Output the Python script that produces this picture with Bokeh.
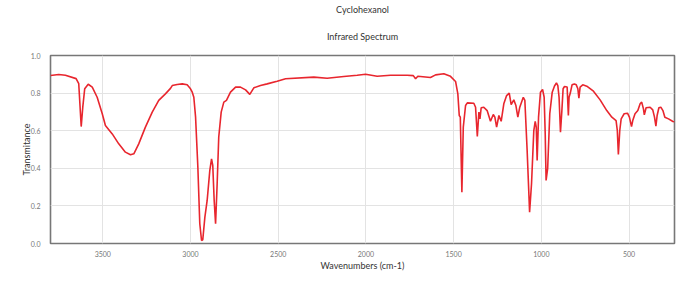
from bokeh.plotting import figure
from bokeh.models import Range1d, FixedTicker, PrintfTickFormatter, Title
from bokeh.embed import file_html
from bokeh.resources import INLINE

title_main = "Cyclohexanol"
title_sub = "Infrared Spectrum"
x_label = "Wavenumbers (cm-1)"
y_label = "Transmitance"
x_ticks = [500, 1000, 1500, 2000, 2500, 3000, 3500]
y_ticks = [0.0, 0.2, 0.4, 0.6, 0.8, 1.0]

wavenumber = [3798, 3751, 3713, 3652, 3637, 3623, 3614, 3603, 3583, 3560, 3532, 3503, 3485, 3446,
              3409, 3371, 3342, 3323, 3295, 3257, 3218, 3181, 3143, 3114, 3104, 3076, 3047, 3019,
              3000, 2990, 2981, 2971, 2958, 2947, 2937, 2930, 2918, 2905, 2890, 2880, 2873, 2865,
              2857, 2848, 2839, 2825, 2810, 2795, 2772, 2743, 2715, 2686, 2662, 2639, 2601, 2563,
              2506, 2458, 2297, 2221, 2126, 2050, 2002, 1936, 1860, 1765, 1730, 1717, 1704, 1632,
              1603, 1556, 1518, 1489, 1476, 1468, 1462, 1453, 1445, 1432, 1422, 1385, 1375, 1365,
              1356, 1350, 1343, 1328, 1309, 1290, 1274, 1265, 1255, 1242, 1229, 1214, 1198, 1183,
              1172, 1157, 1145, 1134, 1123, 1103, 1094, 1081, 1067, 1056, 1043, 1035, 1029, 1024,
              1016, 1005, 993, 984, 978, 973, 964, 952, 938, 925, 914, 906, 899, 891, 883, 876,
              868, 853, 846, 842, 835, 825, 812, 801, 792, 786, 779, 764, 741, 703, 665, 627, 598,
              574, 567, 561, 553, 545, 528, 509, 498, 486, 479, 466, 450, 437, 428, 418, 413, 403,
              380, 365, 355, 347, 340, 330, 319, 307, 296, 275, 250, 241]
transmittance = [0.894, 0.899, 0.895, 0.877, 0.850, 0.622, 0.725, 0.823, 0.847, 0.832, 0.778, 0.690,
                 0.628, 0.583, 0.530, 0.486, 0.472, 0.477, 0.530, 0.619, 0.699, 0.761, 0.796, 0.825,
                 0.840, 0.846, 0.849, 0.844, 0.823, 0.805, 0.778, 0.672, 0.406, 0.105, 0.016, 0.020,
                 0.140, 0.229, 0.388, 0.450, 0.415, 0.229, 0.105, 0.318, 0.565, 0.699, 0.752, 0.761,
                 0.805, 0.832, 0.832, 0.817, 0.793, 0.828, 0.840, 0.849, 0.863, 0.876, 0.885, 0.879,
                 0.888, 0.895, 0.900, 0.890, 0.895, 0.895, 0.893, 0.876, 0.890, 0.883, 0.897, 0.903,
                 0.889, 0.862, 0.796, 0.681, 0.672, 0.273, 0.619, 0.734, 0.748, 0.746, 0.725, 0.569,
                 0.699, 0.663, 0.722, 0.725, 0.707, 0.650, 0.686, 0.672, 0.619, 0.681, 0.650, 0.743,
                 0.787, 0.800, 0.739, 0.764, 0.734, 0.672, 0.725, 0.778, 0.761, 0.495, 0.167, 0.318,
                 0.601, 0.650, 0.619, 0.441, 0.672, 0.805, 0.819, 0.778, 0.585, 0.335, 0.400, 0.690,
                 0.805, 0.838, 0.854, 0.840, 0.778, 0.592, 0.707, 0.823, 0.835, 0.832, 0.681, 0.778,
                 0.800, 0.844, 0.849, 0.844, 0.823, 0.773, 0.832, 0.844, 0.837, 0.810, 0.764, 0.707,
                 0.672, 0.654, 0.601, 0.473, 0.601, 0.663, 0.690, 0.693, 0.672, 0.622, 0.654, 0.690,
                 0.707, 0.743, 0.752, 0.716, 0.684, 0.722, 0.725, 0.711, 0.672, 0.624, 0.681, 0.722,
                 0.725, 0.707, 0.672, 0.663, 0.649, 0.648]

FONT = "Lato"

p = figure(width=700, height=299, output_backend="svg", toolbar_location=None,
           x_range=Range1d(3798, 241), y_range=Range1d(0, 1.0),
           min_border_left=50, min_border_right=26, min_border_top=55, min_border_bottom=56)
p.title = None

p.add_layout(Title(text=title_sub, align="center", text_font=FONT, text_font_size="9px",
                   text_font_style="normal", text_color="#333333", standoff=28), "above")
p.add_layout(Title(text=title_main, align="center", text_font=FONT, text_font_size="9px",
                   text_font_style="normal", text_color="#333333", standoff=0), "above")

p.line(wavenumber, transmittance, line_color="#e8262e", line_width=1.6)

p.outline_line_color = "#777777"
p.outline_line_width = 1.6
p.background_fill_color = "white"
p.border_fill_color = "white"

for ax in (p.xaxis[0], p.yaxis[0]):
    ax.axis_line_color = None
    ax.major_tick_line_color = None
    ax.minor_tick_line_color = None
    ax.major_label_text_font = FONT
    ax.major_label_text_font_size = "7px"
    ax.major_label_text_color = "#777777"
    ax.axis_label_text_font = FONT
    ax.axis_label_text_font_size = "9px"
    ax.axis_label_text_font_style = "normal"
    ax.axis_label_text_color = "#333333"

p.xaxis.ticker = FixedTicker(ticks=x_ticks)
p.xaxis.formatter = PrintfTickFormatter(format="%d")
p.xaxis.axis_label = x_label
p.xaxis.major_label_standoff = 1
p.xaxis.axis_label_standoff = 0

p.yaxis.ticker = FixedTicker(ticks=y_ticks)
p.yaxis.formatter = PrintfTickFormatter(format="%.1f")
p.yaxis.axis_label = y_label
p.yaxis.major_label_standoff = 4
p.yaxis.axis_label_standoff = -4

p.xgrid.grid_line_color = "#e3e3e3"
p.ygrid.grid_line_color = "#e3e3e3"
p.xgrid.ticker = FixedTicker(ticks=x_ticks)
p.ygrid.ticker = FixedTicker(ticks=y_ticks)

open("out.html", "w").write(file_html(p, INLINE))
